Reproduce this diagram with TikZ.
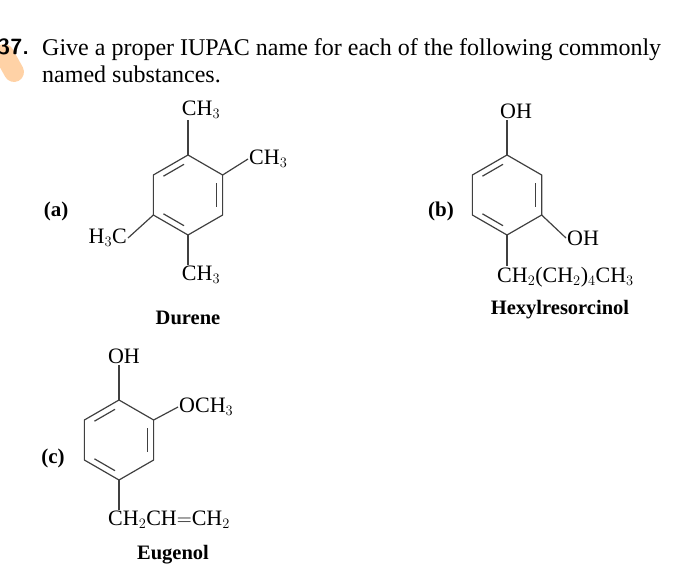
\documentclass[tikz,border=0pt]{standalone}
\usepackage{fontspec}
\setmainfont{Liberation Serif}
\usetikzlibrary{calc}
\begin{document}
\begin{tikzpicture}[x=1pt,y=1pt,
  bond/.style={line width=1.2pt,color=black!75},
  chem/.style={inner sep=1pt,font=\fontsize{22}{24}\selectfont},
  txt/.style={inner sep=0pt,anchor=base west,font=\fontsize{24}{26}\selectfont},
  capt/.style={inner sep=0pt,font=\bfseries\fontsize{20.5}{22}\selectfont},
  lab/.style={inner sep=0pt,font=\bfseries\fontsize{21}{23}\selectfont}]
\useasboundingbox (0,0) rectangle (700,-575);
\newcommand{\ring}[3]{% name, x, y
  \coordinate (#1c) at (#2,#3);
  \foreach \k/\a in {1/90,2/30,3/-30,4/-90,5/-150,6/150}{
    \coordinate (#1\k) at ($(#1c)+(\a:40)$);
    \coordinate (#1i\k) at ($(#1c)+(\a:33)$);}
  \draw[bond] (#11)--(#12)--(#13)--(#14)--(#15)--(#16)--cycle;
  \foreach \p/\q in {1/6,2/3,4/5}{
    \draw[bond] ($(#1i\p)!0.14!(#1i\q)$)--($(#1i\q)!0.14!(#1i\p)$);}
}
% title
\draw[orange!35!white,line width=20pt,line cap=round] (4,-54) -- (14,-72);
\node[txt,font=\sffamily\bfseries\fontsize{22}{24}\selectfont] (num) at (-2,-55) {37.};
\node[txt] (l1) at (42,-56) {Give a proper IUPAC name for each of the following commonly};
\node[txt] (l2) at (42,-83) {named substances.};
% (a)
\ring{a}{188}{-195}
\node[chem,anchor=south] (a1t) at (201,-120) {CH$_3$};
\draw[bond] (a1)--(a1t.south -| a1);
\node[chem,anchor=west] (a2t) at (248,-159) {CH$_3$};
\draw[bond] (a2)--(a2t.west);
\node[chem,anchor=east] (a5t) at (128,-238) {H$_3$C};
\draw[bond] (a5)--(a5t.east);
\node[chem,anchor=north] (a4t) at (201,-265) {CH$_3$};
\draw[bond] (a4)--(a4t.north -| a4);
\node[lab] (la) at (56,-211) {(a)};
\node[capt] (da) at (188,-318) {Durene};
% (b)
\ring{b}{507}{-195}
\node[chem,anchor=south] (b1t) at (516,-120) {OH};
\draw[bond] (b1)--(b1t.south -| b1);
\node[chem,anchor=west] (b3t) at (566,-238) {OH};
\draw[bond] (b3)--(b3t.west);
\node[chem,anchor=north west] (b4t) at (496,-266) {CH$_2$(CH$_2$)$_4$CH$_3$};
\draw[bond] (b4)--(b4t.north -| b4);
\node[lab] (lb) at (441,-211) {(b)};
\node[capt] (db) at (560,-310) {Hexylresorcinol};
% (c)
\ring{c}{119}{-440}
\node[chem,anchor=south] (c1t) at (124,-365) {OH};
\draw[bond] (c1)--(c1t.south -| c1);
\node[chem,anchor=west] (c2t) at (178,-407) {OCH$_3$};
\draw[bond] (c2)--(c2t.west);
\node[chem,anchor=north west] (c4t) at (107,-510) {CH$_2$CH${=}$CH$_2$};
\draw[bond] (c4)--(c4t.north -| c4);
\node[lab] (lc) at (53,-458) {(c)};
\node[capt] (dc) at (173,-555) {Eugenol};
\end{tikzpicture}
\end{document}
